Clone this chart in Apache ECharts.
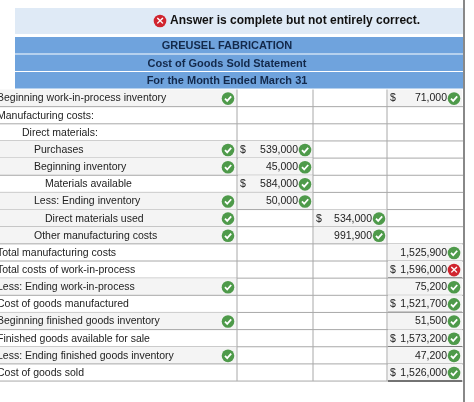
<!DOCTYPE html><html><head><meta charset="utf-8">
<script src="https://cdn.jsdelivr.net/npm/echarts@6/dist/echarts.min.js"></script>
<style>html,body{margin:0;padding:0;background:#fff}#c{width:474px;height:402px}</style></head><body><div id="c"></div>
<script>
const titles=["GREUSEL FABRICATION","Cost of Goods Sold Statement","For the Month Ended March 31"];
const labels=["Beginning work-in-process inventory","Manufacturing costs:","Direct materials:","Purchases","Beginning inventory","Materials available","Less: Ending inventory","Direct materials used","Other manufacturing costs","Total manufacturing costs","Total costs of work-in-process","Less: Ending work-in-process","Cost of goods manufactured","Beginning finished goods inventory","Finished goods available for sale","Less: Ending finished goods inventory","Cost of goods sold"];
const indents=[0,0,1,2,2,3,2,3,2,0,0,0,0,0,0,0,0];
const labelCheck=[1,0,0,1,1,0,1,1,1,0,0,1,0,1,0,1,0];
const col2=["","","","539,000","45,000","584,000","50,000","","","","","","","","","",""];
const col2Dollar=[0,0,0,1,0,1,0,0,0,0,0,0,0,0,0,0,0];
const col3=["","","","","","","","534,000","991,900","","","","","","","",""];
const col3Dollar=[0,0,0,0,0,0,0,1,0,0,0,0,0,0,0,0,0];
const col4=["71,000","","","","","","","","","1,525,900","1,596,000","75,200","1,521,700","51,500","1,573,200","47,200","1,526,000"];
const col4Dollar=[1,0,0,0,0,0,0,0,0,0,1,0,1,0,1,0,1];
const col4Mark=["ok","","","","","","","","","ok","bad","ok","ok","ok","ok","ok","ok"];

const TOP=89.5,RH=17.15,COLS=[237,313,387,462];
const font='10.5px "Liberation Sans", Arial, sans-serif';
function mark(x,y,type){
  return {type:'group',children:[
    {type:'circle',shape:{cx:x,cy:y,r:6.3},style:{fill:type==='bad'?'#d0242e':'#4e9a4a'}},
    type==='bad'?
    {type:'text',style:{x:x,y:y+0.5,text:'×',fill:'#fff',font:'bold 11px "DejaVu Sans"',align:'center',verticalAlign:'middle'}}:
    {type:'polyline',shape:{points:[[x-3,y],[x-0.8,y+2.3],[x+3.2,y-2.2]]},style:{stroke:'#fff',lineWidth:1.8,fill:null}}
  ]};
}
const data=labels.map((l,i)=>[i]);
const chart=echarts.init(document.getElementById('c'),null,{renderer:'canvas'});
chart.setOption({
  animation:false,
  grid:{left:0,right:0,top:0,bottom:0},
  xAxis:{type:'value',min:0,max:474,show:false},
  yAxis:{type:'value',min:0,max:402,inverse:true,show:false},
  graphic:[
    {type:'rect',shape:{x:15,y:8,width:450,height:26},style:{fill:'#dfeaf6'}},
    {type:'rect',shape:{x:463,y:0,width:2,height:402},style:{fill:'#888'}},
    mark(160,21,'bad'),
    {type:'text',style:{x:170,y:21,text:'Answer is complete but not entirely correct.',font:'bold 12px "Liberation Sans"',fill:'#111',verticalAlign:'middle'}},
    ...titles.map((t,i)=>({type:'group',children:[
      {type:'rect',shape:{x:15,y:37+i*17.5,width:448,height:16.5},style:{fill:'#6fa3dd'}},
      {type:'text',style:{x:227,y:46+i*17.5,text:t,font:'bold 11px "Liberation Sans"',fill:'#13294b',align:'center',verticalAlign:'middle'}}
    ]}))
  ],
  series:[{type:'custom',data:data,clip:false,renderItem:function(p,api){
    const i=api.value(0);
    const y0=api.coord([0,TOP+i*RH])[1], y1=y0+RH, cy=y0+RH/2+0.5;
    const ch=[];
    const inputLabel=labelCheck[i];
    if(inputLabel) ch.push({type:'rect',shape:{x:0,y:y0,width:237,height:RH},style:{fill:'#f4f4f4'}});
    const vals=[[col2,col2Dollar,1],[col3,col3Dollar,2],[col4,col4Dollar,3]];
    vals.forEach(([arr,dol,c])=>{
      if(arr[i]){
        ch.push({type:'rect',shape:{x:COLS[c-1]+1,y:y0,width:COLS[c]-COLS[c-1]-1,height:RH},style:{fill:'#f4f4f4'}});
        if(dol[i]) ch.push({type:'text',style:{x:COLS[c-1]+3,y:cy,text:'$',font:font,fill:'#222',verticalAlign:'middle'}});
        ch.push({type:'text',style:{x:COLS[c]-15,y:cy,text:arr[i],font:font,fill:'#222',align:'right',verticalAlign:'middle'}});
        const m=c===3?col4Mark[i]:'ok';
        ch.push(mark(COLS[c]-8,cy,m));
      }
    });
    ch.push({type:'text',style:{x:[-3,22,34,45][indents[i]],y:cy,text:labels[i],font:font,fill:'#222',verticalAlign:'middle'}});
    if(inputLabel) ch.push(mark(228,cy,'ok'));
    ch.push({type:'line',shape:{x1:0,y1:y1,x2:463,y2:y1},style:{stroke:'#a8a8a8',lineWidth:1}});
    COLS.slice(0,3).forEach(x=>ch.push({type:'line',shape:{x1:x,y1:y0,x2:x,y2:y1},style:{stroke:'#a8a8a8',lineWidth:1}}));
    if(col4Dollar[i]&&i>0) ch.push({type:'line',shape:{x1:388,y1:y1,x2:462,y2:y1},style:{stroke:'#555',lineWidth:1.5}});
    return {type:'group',children:ch};
  }}]
});
</script></body></html>
